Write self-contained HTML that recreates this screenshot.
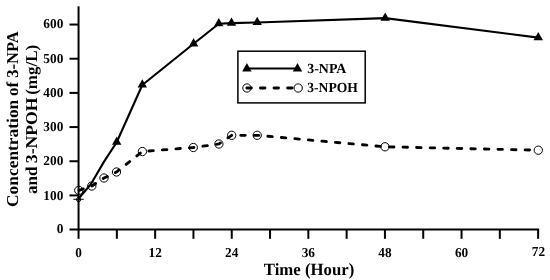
<!DOCTYPE html>
<html><head><meta charset="utf-8"><title>chart</title>
<style>
html,body{margin:0;padding:0;background:#fff;}
body{width:550px;height:280px;overflow:hidden;}
svg{display:block;}
text{font-family:"Liberation Serif",serif;font-weight:bold;fill:#000;text-rendering:geometricPrecision;}
.tk{font-size:13.3px;}
.ti{font-size:16.6px;}
.lg{font-size:13.6px;}
.ti2{font-size:16.75px;}
</style></head><body>
<svg width="550" height="280" viewBox="0 0 550 280">
<rect width="550" height="280" fill="#fff"/>
<g stroke="#000" stroke-width="2.0" fill="none">
<line x1="78.55" y1="6.3" x2="78.55" y2="238.8"/>
<line x1="69.5" y1="229.6" x2="539.13" y2="229.6"/>
<line x1="69.5" y1="195.43" x2="78.55" y2="195.43"/>
<line x1="69.5" y1="161.25" x2="78.55" y2="161.25"/>
<line x1="69.5" y1="127.07" x2="78.55" y2="127.07"/>
<line x1="69.5" y1="92.90" x2="78.55" y2="92.90"/>
<line x1="69.5" y1="58.72" x2="78.55" y2="58.72"/>
<line x1="69.5" y1="24.55" x2="78.55" y2="24.55"/>
<line x1="116.85" y1="229.6" x2="116.85" y2="238.8"/>
<line x1="155.15" y1="229.6" x2="155.15" y2="238.8"/>
<line x1="193.44" y1="229.6" x2="193.44" y2="238.8"/>
<line x1="231.74" y1="229.6" x2="231.74" y2="238.8"/>
<line x1="270.04" y1="229.6" x2="270.04" y2="238.8"/>
<line x1="308.34" y1="229.6" x2="308.34" y2="238.8"/>
<line x1="346.64" y1="229.6" x2="346.64" y2="238.8"/>
<line x1="384.93" y1="229.6" x2="384.93" y2="238.8"/>
<line x1="423.23" y1="229.6" x2="423.23" y2="238.8"/>
<line x1="461.53" y1="229.6" x2="461.53" y2="238.8"/>
<line x1="499.83" y1="229.6" x2="499.83" y2="238.8"/>
<line x1="538.13" y1="229.6" x2="538.13" y2="238.8"/>
</g>
<text class="tk" transform="translate(63.30,233.20) scale(1,1.024)" text-anchor="end">0</text>
<text class="tk" transform="translate(63.30,200.33) scale(1,1.024)" text-anchor="end">100</text>
<text class="tk" transform="translate(63.30,165.25) scale(1,1.024)" text-anchor="end">200</text>
<text class="tk" transform="translate(63.30,130.97) scale(1,1.024)" text-anchor="end">300</text>
<text class="tk" transform="translate(63.30,97.00) scale(1,1.024)" text-anchor="end">400</text>
<text class="tk" transform="translate(63.30,63.22) scale(1,1.024)" text-anchor="end">500</text>
<text class="tk" transform="translate(63.30,28.45) scale(1,1.024)" text-anchor="end">600</text>
<text class="tk" transform="translate(78.55,256.50) scale(1,1.024)" text-anchor="middle">0</text>
<text class="tk" transform="translate(155.15,256.50) scale(1,1.024)" text-anchor="middle">12</text>
<text class="tk" transform="translate(231.74,256.50) scale(1,1.024)" text-anchor="middle">24</text>
<text class="tk" transform="translate(308.34,256.50) scale(1,1.024)" text-anchor="middle">36</text>
<text class="tk" transform="translate(384.93,256.50) scale(1,1.024)" text-anchor="middle">48</text>
<text class="tk" transform="translate(461.53,256.50) scale(1,1.024)" text-anchor="middle">60</text>
<text class="tk" transform="translate(538.43,256.20) scale(1,1.024)" text-anchor="middle">72</text>
<text class="ti2" transform="translate(309.00,274.80) scale(1,1.024)" text-anchor="middle">Time (Hour)</text>
<text class="ti" transform="translate(18.30,207.00) scale(1,1.024) rotate(-90)" textLength="104.79" lengthAdjust="spacingAndGlyphs">Concentration</text>
<text class="ti" transform="translate(18.30,96.06) scale(1,1.024) rotate(-90)" textLength="13.83" lengthAdjust="spacingAndGlyphs">of</text>
<text class="ti" transform="translate(18.30,77.65) scale(1,1.024) rotate(-90)" textLength="45.31" lengthAdjust="spacingAndGlyphs">3-NPA</text>
<text class="ti" transform="translate(36.70,193.98) scale(1,1.024) rotate(-90)" textLength="26.77" lengthAdjust="spacingAndGlyphs">and</text>
<text class="ti" transform="translate(36.70,163.20) scale(1,1.024) rotate(-90)" textLength="64.26" lengthAdjust="spacingAndGlyphs">3-NPOH</text>
<text class="ti" transform="translate(36.70,94.81) scale(1,1.024) rotate(-90)" textLength="48.86" lengthAdjust="spacingAndGlyphs">(mg/L)</text>
<polyline points="78.8,190.4 91.8,186 104,178 116.5,172 142.4,151.5 193.3,147.5 218.9,144 231.7,135.3 257.2,135.3 385,146.8 538.3,150.2" fill="none" stroke="#000" stroke-width="2.85" stroke-dasharray="4.5 9.066" stroke-dashoffset="-0.27" stroke-linecap="round"/>
<circle cx="78.8" cy="190.4" r="4.15" fill="none" stroke="#000" stroke-width="1"/>
<circle cx="91.8" cy="186" r="4.15" fill="none" stroke="#000" stroke-width="1"/>
<circle cx="104" cy="178" r="4.15" fill="none" stroke="#000" stroke-width="1"/>
<circle cx="116.5" cy="172" r="4.15" fill="none" stroke="#000" stroke-width="1"/>
<circle cx="142.4" cy="151.5" r="4.15" fill="none" stroke="#000" stroke-width="1"/>
<circle cx="193.3" cy="147.5" r="4.15" fill="none" stroke="#000" stroke-width="1"/>
<circle cx="218.9" cy="144" r="4.15" fill="none" stroke="#000" stroke-width="1"/>
<circle cx="231.7" cy="135.3" r="4.15" fill="none" stroke="#000" stroke-width="1"/>
<circle cx="257.2" cy="135.3" r="4.15" fill="none" stroke="#000" stroke-width="1"/>
<circle cx="385" cy="146.8" r="4.15" fill="none" stroke="#000" stroke-width="1"/>
<circle cx="538.3" cy="150.2" r="4.15" fill="none" stroke="#000" stroke-width="1"/>
<polyline points="78.4,198.8 90.8,184.2 103.9,161.9 116.7,142.2 142.3,85.0 193.6,43.8 218.8,23.7 231.5,23.1 257.2,22.5 385.2,18.1 538.25,37.6" fill="none" stroke="#000" stroke-width="2.1" stroke-linejoin="round"/>
<polygon points="116.70,136.50 112.00,144.80 121.40,144.80" fill="#000"/>
<polygon points="142.30,79.30 137.60,87.60 147.00,87.60" fill="#000"/>
<polygon points="193.60,38.10 188.90,46.40 198.30,46.40" fill="#000"/>
<polygon points="218.80,18.00 214.10,26.30 223.50,26.30" fill="#000"/>
<polygon points="231.50,17.40 226.80,25.70 236.20,25.70" fill="#000"/>
<polygon points="257.20,16.80 252.50,25.10 261.90,25.10" fill="#000"/>
<polygon points="385.20,12.40 380.50,20.70 389.90,20.70" fill="#000"/>
<polygon points="538.25,31.90 533.55,40.20 542.95,40.20" fill="#000"/>
<line x1="73.3" y1="199.3" x2="83.7" y2="199.3" stroke="#000" stroke-width="1"/>
<circle cx="78.6" cy="199.5" r="2.1" fill="none" stroke="#000" stroke-width="1"/>
<rect x="237.9" y="51.2" width="127.3" height="51.7" fill="#fff" stroke="#000" stroke-width="1.5"/>
<line x1="246.9" y1="68.5" x2="297.5" y2="68.5" stroke="#000" stroke-width="2.1"/>
<polygon points="246.90,63.10 242.20,71.40 251.60,71.40" fill="#000"/>
<polygon points="297.50,63.10 292.80,71.40 302.20,71.40" fill="#000"/>
<line x1="246.9" y1="88.0" x2="298.2" y2="88.0" stroke="#000" stroke-width="2.85" stroke-dasharray="4.5 9.066" stroke-dashoffset="0" stroke-linecap="round"/>
<circle cx="246.9" cy="88.0" r="4.15" fill="none" stroke="#000" stroke-width="1"/>
<circle cx="298.2" cy="88.0" r="4.15" fill="none" stroke="#000" stroke-width="1"/>
<text class="lg" transform="translate(307.3,73.4) scale(1,1.024)" textLength="39.1" lengthAdjust="spacingAndGlyphs">3-NPA</text>
<text class="lg" transform="translate(307.30,91.90) scale(1,1.024)" text-anchor="start">3-NPOH</text>
</svg></body></html>
